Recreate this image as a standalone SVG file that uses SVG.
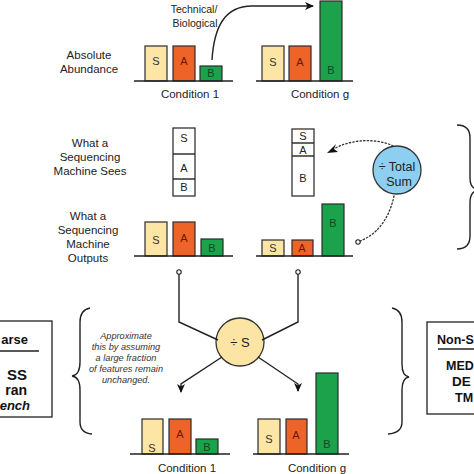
<svg xmlns="http://www.w3.org/2000/svg" width="474" height="474" viewBox="0 0 474 474">
<style>
text{font-family:"Liberation Sans",Arial,sans-serif}
.lbl{font-size:11.5px;fill:#222;text-anchor:middle}
.bar{stroke:#2b2b2b;stroke-width:1.2}
.s{fill:#FDE5A5}.a{fill:#EE6428}.b{fill:#1CA24B}
.base{stroke:#222;stroke-width:1.5;fill:none}
.bt{font-size:11px;text-anchor:middle}
.ts{fill:#333}.ta{fill:#6a1800}.tb{fill:#0d4a20}.tk{fill:#222}
.box{fill:#fff;stroke:#222;stroke-width:1.2}
.ln{fill:none;stroke:#222;stroke-width:1.4}
.dot{fill:none;stroke:#333;stroke-width:1.3;stroke-dasharray:1.4 2.2;stroke-linecap:round}
.pin{fill:#fff;stroke:#222;stroke-width:1.1}
.brace{fill:none;stroke:#222;stroke-width:1.4}
.it{font-size:9.2px;font-style:italic;fill:#333;text-anchor:middle}
.bold{font-weight:bold;fill:#111}
</style>
<defs>
<marker id="ah" markerWidth="10" markerHeight="10" refX="8" refY="5" orient="auto" markerUnits="userSpaceOnUse">
<path d="M0,1 L9,5 L0,9 L2.5,5 Z" fill="#111"/>
</marker>
</defs>

<g id="label-absolute">
<text class="lbl" x="89" y="59">Absolute</text>
<text class="lbl" x="89" y="73">Abundance</text>
</g>
<g id="label-sees">
<text class="lbl" x="90" y="147">What a</text>
<text class="lbl" x="90" y="161">Sequencing</text>
<text class="lbl" x="90" y="175">Machine Sees</text>
</g>
<g id="label-outputs">
<text class="lbl" x="88" y="220">What a</text>
<text class="lbl" x="88" y="234">Sequencing</text>
<text class="lbl" x="88" y="248">Machine</text>
<text class="lbl" x="88" y="262">Outputs</text>
</g>
<g id="label-tech">
<text class="lbl" x="194" y="13" style="font-size:10.5px">Technical/</text>
<text class="lbl" x="195" y="27" style="font-size:10.5px">Biological</text>
</g>

<g id="abs-cond1">
<rect class="bar s" x="145" y="46" width="22" height="35"/>
<rect class="bar a" x="173" y="46" width="22" height="35"/>
<rect class="bar b" x="200" y="66" width="22" height="15"/>
<line class="base" x1="134" y1="81" x2="233" y2="81"/>
<text class="bt ts" x="156" y="65">S</text>
<text class="bt ta" x="184" y="65">A</text>
<text class="bt tb" x="211" y="77">B</text>
<text class="lbl" x="190" y="98">Condition 1</text>
</g>
<g id="abs-condg">
<rect class="bar s" x="262" y="46" width="22" height="35"/>
<rect class="bar a" x="289" y="46" width="22" height="35"/>
<rect class="bar b" x="320" y="1" width="22" height="80"/>
<line class="base" x1="256" y1="81" x2="353" y2="81"/>
<text class="bt ts" x="273" y="66">S</text>
<text class="bt ta" x="300" y="66">A</text>
<text class="bt tb" x="331" y="74">B</text>
<text class="lbl" x="320" y="98">Condition g</text>
</g>

<g id="sees-cond1">
<rect class="box" x="173" y="128" width="22" height="68"/>
<line class="ln" x1="173" y1="154" x2="195" y2="154"/>
<line class="ln" x1="173" y1="179" x2="195" y2="179"/>
<text class="bt tk" x="184" y="142">S</text>
<text class="bt tk" x="184" y="172">A</text>
<text class="bt tk" x="184" y="191">B</text>
</g>
<g id="sees-condg">
<rect class="box" x="292" y="129" width="22" height="67"/>
<line class="ln" x1="292" y1="143" x2="314" y2="143"/>
<line class="ln" x1="292" y1="156" x2="314" y2="156"/>
<text class="bt tk" x="303" y="140">S</text>
<text class="bt tk" x="303" y="154">A</text>
<text class="bt tk" x="303" y="182">B</text>
</g>

<g id="out-cond1">
<rect class="bar s" x="145" y="222" width="22" height="34"/>
<rect class="bar a" x="173" y="222" width="22" height="34"/>
<rect class="bar b" x="201" y="239" width="22" height="17"/>
<line class="base" x1="134" y1="256" x2="233" y2="256"/>
<text class="bt ts" x="156" y="244">S</text>
<text class="bt ta" x="184" y="242">A</text>
<text class="bt tb" x="212" y="252">B</text>
</g>
<g id="out-condg">
<rect class="bar s" x="262" y="240" width="22" height="16"/>
<rect class="bar a" x="292" y="240" width="21" height="16"/>
<rect class="bar b" x="322" y="204" width="22" height="52"/>
<line class="base" x1="256" y1="256" x2="353" y2="256"/>
<text class="bt ts" x="273" y="252">S</text>
<text class="bt ta" x="302" y="252">A</text>
<text class="bt tb" x="333" y="227">B</text>
</g>

<g id="total-sum">
<circle cx="397" cy="170" r="24" fill="#8CCFF1" stroke="#333" stroke-width="1.3"/>
<text x="397" y="171" style="font-size:12.5px;fill:#222;text-anchor:middle">÷ Total</text>
<text x="399" y="186" style="font-size:12.5px;fill:#222;text-anchor:middle">Sum</text>
</g>

<g id="div-s">
<circle cx="240" cy="342" r="24" fill="#FCE4A4" stroke="#333" stroke-width="1.3"/>
<text x="240" y="347" style="font-size:13px;fill:#222;text-anchor:middle">÷ S</text>
</g>

<g id="approx-note">
<text class="it" x="126" y="339">Approximate</text>
<text class="it" x="126" y="350">this by assuming</text>
<text class="it" x="126" y="361">a large fraction</text>
<text class="it" x="126" y="372">of features remain</text>
<text class="it" x="126" y="383">unchanged.</text>
</g>

<g id="norm-cond1">
<rect class="bar s" x="142" y="419" width="21" height="35"/>
<rect class="bar a" x="169" y="419" width="22" height="35"/>
<rect class="bar b" x="196" y="439" width="22" height="15"/>
<line class="base" x1="130" y1="454" x2="230" y2="454"/>
<text class="bt ts" x="152" y="452">S</text>
<text class="bt ta" x="180" y="438">A</text>
<text class="bt tb" x="207" y="451">B</text>
<text class="lbl" x="187" y="472">Condition 1</text>
</g>
<g id="norm-condg">
<rect class="bar s" x="258" y="419" width="22" height="35"/>
<rect class="bar a" x="286" y="419" width="21" height="35"/>
<rect class="bar b" x="316" y="373" width="22" height="81"/>
<line class="base" x1="253" y1="454" x2="349" y2="454"/>
<text class="bt ts" x="269" y="443">S</text>
<text class="bt ta" x="296" y="439">A</text>
<text class="bt tb" x="327" y="448">B</text>
<text class="lbl" x="317" y="472">Condition g</text>
</g>

<g id="brace-top-right">
<path class="brace" d="M457,125 Q470,125 470,138 L470,178 Q470,189 479,190 Q470,191 470,202 L470,236 Q470,249 457,249"/>
</g>
<g id="brace-mid-left">
<path class="brace" d="M90,308 Q80,310 80,322 L80,362 Q80,375 72,376 Q80,377 80,390 L80,422 Q80,433 92,434"/>
</g>
<g id="brace-mid-right">
<path class="brace" d="M392,308 Q402,310 402,322 L402,364 Q402,376 409,377 Q402,378 402,390 L402,422 Q402,433 388,434"/>
</g>

<g id="box-sparse">
<rect x="-10" y="321" width="62" height="96" fill="#fff" stroke="#222" stroke-width="1.3"/>
<line x1="-10" y1="351" x2="39" y2="351" stroke="#222" stroke-width="1.3"/>
<text class="bold" x="28" y="344" style="font-size:13px;text-anchor:end">arse</text>
<text class="bold" x="27" y="380" style="font-size:15px;text-anchor:end">SS</text>
<text class="bold" x="27" y="395" style="font-size:14px;text-anchor:end">ran</text>
<text class="bold" x="30" y="410" style="font-size:13px;text-anchor:end;font-style:italic">ench</text>
</g>
<g id="box-nonsparse">
<rect x="427" y="322" width="60" height="92" fill="#fff" stroke="#222" stroke-width="1.3"/>
<line x1="438" y1="349" x2="480" y2="349" stroke="#222" stroke-width="1.3"/>
<text class="bold" x="437" y="344" style="font-size:12.5px">Non-S</text>
<text class="bold" x="446" y="370" style="font-size:12.5px">MED</text>
<text class="bold" x="452" y="386" style="font-size:13.5px">DE</text>
<text class="bold" x="455" y="402" style="font-size:12.5px">TM</text>
</g>

<g id="connectors">
<path class="ln" d="M212,60 C214,28 224,6 252,6 L313,6" marker-end="url(#ah)"/>
<path class="dot" d="M393,146 C378,138 350,139 334,149"/>
<path d="M327,153 L336,144 L334,149 L338,152 Z" fill="#111"/>
<path class="dot" d="M394,196 C389,220 376,235 360,241"/>
<circle class="pin" cx="358" cy="242" r="2.2"/>
<path class="ln" d="M179,274 L179,322 L218,340"/>
<circle class="pin" cx="179" cy="272" r="2.2"/>
<path class="ln" d="M298,274 L298,322 L262,340"/>
<circle class="pin" cx="298" cy="272" r="2.2"/>
<path class="ln" d="M222,357 L181,384 L181,392" marker-end="url(#ah)"/>
<path class="ln" d="M258,357 L298,384 L298,391" marker-end="url(#ah)"/>
</g>
</svg>
